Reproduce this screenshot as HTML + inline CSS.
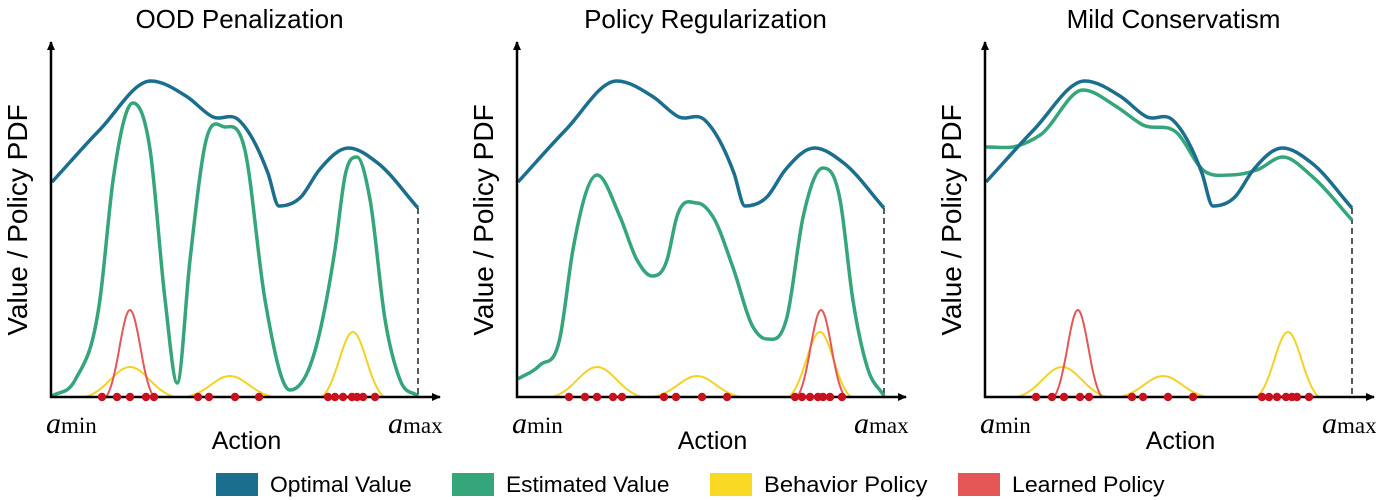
<!DOCTYPE html>
<html><head><meta charset="utf-8"><style>
body{margin:0;background:#fff;}
svg{display:block;font-family:"Liberation Sans",sans-serif;}
</style></head><body>
<svg id="chart" width="1376" height="500" viewBox="0 0 1376 500">
<defs><marker id="arr" markerWidth="10" markerHeight="10" refX="8" refY="5" orient="auto" markerUnits="userSpaceOnUse"><path d="M0,1 L9,5 L0,9 Z" fill="#000"/></marker></defs>
</svg>
<script>
// ---- data (values = height above axis, x = fraction of action range) ----
const optimalX = [0,.13,.27,.37,.44,.51,.59,.62,.68,.73,.81,.89,1];
const optimalV = [215,267,316,300,280,277,224,191,200,227,249,234,189];
const est1X = [0,.063,.131,.167,.221,.268,.309,.342,.377,.418,.473,.527,.582,.65,.719,.773,.801,.833,.869,.91,.951,1];
const est1V = [1,17,97,217,294,247,97,14,137,252,270,247,97,7,47,147,222,240,197,77,17,1];
const est2X = [0,.06,.115,.15,.216,.279,.325,.366,.407,.434,.489,.533,.587,.642,.68,.735,.779,.833,.88,.915,.954,1];
const est2V = [18,32,60,147,222,180,137,121,137,180,194,180,130,70,58,80,180,229,197,97,30,1];
const est3X = [0,.085,.148,.265,.358,.429,.522,.593,.667,.74,.811,.893,1];
const est3V = [250,251,262,307,290,272,264,227,222,227,240,220,177];
const behCenters = [[.213,.486,.822],[.216,.489,.825],[.208,.484,.825]];
const behHeights = [30,21,65];
const behWidths = [.123,.12,.085];
const learnCenter = [.213,.828,.251];
const learnHeight = 87;
const learnWidth = .065;
const dots1 = [102,117,130,146,154,198,209,235,259,328,335,343,352,357,363,375];
const dots2 = [569,585,597,613,622,664,676,702,727,795,802,810,818,823,830,842];
const dots3 = [1036,1052,1064,1080,1089,1132,1143,1168,1193,1262,1269,1277,1286,1292,1297,1309];
const titles = ["OOD Penalization","Policy Regularization","Mild Conservatism"];

const NS="http://www.w3.org/2000/svg";
const svg=document.getElementById('chart');
function mk(tag,attrs,parent){const e=document.createElementNS(NS,tag);for(const k in attrs)e.setAttribute(k,attrs[k]);(parent||svg).appendChild(e);return e;}
const panels=[{x0:52,x1:418,ax:51},{x0:518,x1:884,ax:517},{x0:986,x1:1352,ax:985}];
const axisY=397;
function smooth(pts){
  const n=pts.length,m=[];
  for(let i=0;i<n;i++){
    if(i===0)m.push((pts[1][1]-pts[0][1])/(pts[1][0]-pts[0][0]));
    else if(i===n-1)m.push((pts[n-1][1]-pts[n-2][1])/(pts[n-1][0]-pts[n-2][0]));
    else{
      const s0=(pts[i][1]-pts[i-1][1])/(pts[i][0]-pts[i-1][0]),s1=(pts[i+1][1]-pts[i][1])/(pts[i+1][0]-pts[i][0]);
      if(s0*s1<=0)m.push(0);else{const h0=pts[i][0]-pts[i-1][0],h1=pts[i+1][0]-pts[i][0];m.push((s0*h1+s1*h0)/(h0+h1));}
    }
  }
  let d=`M${pts[0][0]},${pts[0][1]}`;
  for(let i=0;i<n-1;i++){const h=(pts[i+1][0]-pts[i][0])/3;
    d+=` C${(pts[i][0]+h).toFixed(1)},${(pts[i][1]+m[i]*h).toFixed(1)} ${(pts[i+1][0]-h).toFixed(1)},${(pts[i+1][1]-m[i+1]*h).toFixed(1)} ${pts[i+1][0]},${pts[i+1][1]}`;}
  return d;
}
function bump(P,c,h,w){const sx=f=>P.x0+f*(P.x1-P.x0);const s=w/2.3,ge=Math.exp(-w*w/(2*s*s));let d='';for(let i=0;i<=60;i++){const f=c-w+2*w*i/60;const g=(Math.exp(-(f-c)*(f-c)/(2*s*s))-ge)/(1-ge);d+=(i?'L':'M')+sx(f).toFixed(1)+','+(axisY-h*g).toFixed(1);}return d;}
const ests=[[est1X,est1V],[est2X,est2V],[est3X,est3V]];
const dotsAll=[dots1,dots2,dots3];
panels.forEach((P,i)=>{
  const g=mk('g',{});
  
  
  const sx=f=>P.x0+f*(P.x1-P.x0);
  const t=mk('text',{x:(P.ax+P.x1)/2+5,y:28,'text-anchor':'middle','font-size':26},g);t.textContent=titles[i];
  
  
  const yl=mk('text',{transform:`translate(${P.ax-24},220) rotate(-90)`,'text-anchor':'middle','font-size':28},g);yl.textContent='Value / Policy PDF';
  
  
  const xl=mk('text',{x:(P.ax+P.x1)/2+12,y:449,'text-anchor':'middle','font-size':25},g);xl.textContent='Action';
  
  
  const amin=mk('text',{x:P.ax-5,y:433,'font-size':30,'font-family':'Liberation Serif, serif','font-style':'italic'},g);amin.innerHTML='a<tspan font-style="normal" font-size="23">min</tspan>';
  
  
  const amax=mk('text',{x:P.x1-30,y:433,'font-size':30,'font-family':'Liberation Serif, serif','font-style':'italic'},g);amax.innerHTML='a<tspan font-style="normal" font-size="23">max</tspan>';
  
  
  const opt=optimalX.map((f,k)=>[+sx(f).toFixed(1),axisY-optimalV[k]]);
  const dash=mk('line',{x1:P.x1,y1:opt[opt.length-1][1],x2:P.x1,y2:axisY,stroke:'#000','stroke-width':1.3,'stroke-dasharray':'6,4'},g);
  
  
  behCenters[i].forEach((c,k)=>{const b=mk('path',{d:bump(P,c,behHeights[k],behWidths[k]),fill:'none',stroke:'#f4d126','stroke-width':2},g);
    
    });
  const r=mk('path',{d:bump(P,learnCenter[i],learnHeight,learnWidth),fill:'none',stroke:'#e55656','stroke-width':2},g);
  
  
  const [ex,ev]=ests[i];
  const e=mk('path',{d:smooth(ex.map((f,k)=>[+sx(f).toFixed(1),axisY-ev[k]])),fill:'none',stroke:'#35a57a','stroke-width':3.5},g);
  
  
  const o=mk('path',{d:smooth(opt),fill:'none',stroke:'#1b6e8e','stroke-width':3.5},g);
  
  
  const ya=mk('line',{x1:P.ax,y1:axisY+1,x2:P.ax,y2:42,stroke:'#000','stroke-width':2.5,'marker-end':'url(#arr)'},g);
  
  
  const xa=mk('line',{x1:P.ax-1,y1:axisY,x2:P.x1+22,y2:axisY,stroke:'#000','stroke-width':2.5,'marker-end':'url(#arr)'},g);
  
  
  dotsAll[i].forEach(x=>{const c=mk('circle',{cx:x,cy:axisY,r:4.2,fill:'#c8101e'},g);
    
    });
});
const legend=[["Optimal Value","#1b6e8e",216],["Estimated Value","#35a57a",452],["Behavior Policy","#f9d923",710],["Learned Policy","#e55656",958]];
legend.forEach(([lab,col,x])=>{
  const g=mk('g',{});
  
  
  mk('rect',{x:x,y:473,width:42,height:23,fill:col},g);
  const t=mk('text',{x:x+54,y:492,'font-size':22,textLength:lab.length*10.9,lengthAdjust:'spacingAndGlyphs'},g);t.textContent=lab;
});
</script>
</body></html>
